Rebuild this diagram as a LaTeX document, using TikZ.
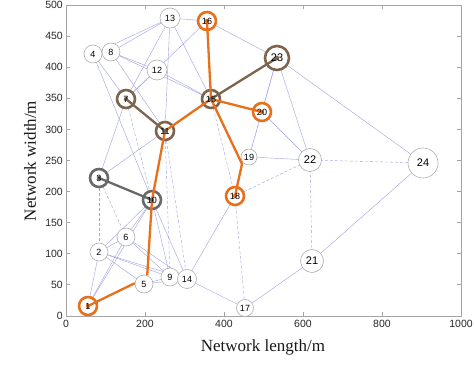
\documentclass[tikz,border=0pt]{standalone}
\usepackage{fontspec}
\setmainfont{Liberation Serif}
\setsansfont{Liberation Sans}
\pgfdeclarelayer{bg}
\pgfsetlayers{bg,main}
\definecolor{hotorange}{RGB}{232,112,28}
\definecolor{hotbrown}{RGB}{125,100,78}
\definecolor{hotgray}{RGB}{105,105,105}
\definecolor{thinblue}{RGB}{160,160,228}
\definecolor{axisgray}{RGB}{165,165,165}
\definecolor{ringgray}{RGB}{175,175,175}
\begin{document}
\begin{tikzpicture}[x=1pt,y=-1pt,
  nd/.style={circle,draw=ringgray,line width=0.6pt,fill=white,inner sep=0pt,minimum size=18pt,font=\sffamily\fontsize{9}{9}\selectfont},
  bignd/.style={nd,minimum size=23pt,font=\sffamily\fontsize{11}{11}\selectfont},
  ringO/.style={draw=hotorange,line width=2.6pt},
  ringB/.style={draw=hotbrown,line width=2.6pt},
  ringG/.style={draw=hotgray,line width=2.6pt},
  thin/.style={draw=thinblue,line width=0.4pt},
  thindash/.style={thin,dash pattern=on 3pt off 2pt},
  thickO/.style={draw=hotorange,line width=2.3pt,line join=round},
  thickB/.style={draw=hotbrown,line width=2.3pt},
  thickG/.style={draw=hotgray,line width=2.3pt},
  axis/.style={draw=axisgray,line width=0.8pt},
  ticklab/.style={font=\sffamily\fontsize{10.5}{10.5}\selectfont,text=black!85,inner sep=1pt},
  toplab/.style={font=\sffamily\fontsize{9}{9}\selectfont,inner sep=0pt},
  title/.style={font=\fontsize{17}{17}\selectfont,text=black!90}
]
\useasboundingbox (0,0) rectangle (474,379);

% axes
\draw[axis] (66,5) rectangle (461,316);
\foreach \xp/\lab in {66/0,145/200,224/400,303/600,382/800,461/1000}{
  \draw[axis] (\xp,316) -- (\xp,312);
  \draw[axis] (\xp,5) -- (\xp,9);
  \node[ticklab,anchor=north] at (\xp,319) {\lab};
}
\foreach \i in {0,...,10}{
  \pgfmathsetmacro{\yp}{316-31.1*\i}
  \pgfmathtruncatemacro{\lab}{50*\i}
  \draw[axis] (66,\yp) -- (70,\yp);
  \draw[axis] (461,\yp) -- (457,\yp);
  \node[ticklab,anchor=east] at (64,\yp) {\lab};
}
\node[title] (xt) at (263,347) {Network length/m};
\node[title,rotate=90] (yt) at (30,161) {Network width/m};

% nodes (labels of highlighted nodes are set on top later)
\node[nd,ringO] (n1) at (88,306) {};
\node[nd] (n2) at (99,252) {2};
\node[nd,ringG] (n3) at (99,178) {};
\node[nd] (n4) at (93,54) {4};
\node[nd] (n5) at (144,284) {5};
\node[nd] (n6) at (126,237) {6};
\node[nd,ringB] (n7) at (126,99) {};
\node[nd] (n8) at (111,52) {8};
\node[nd] (n9) at (170,277) {9};
\node[nd,ringG] (n10) at (152,200) {};
\node[nd,ringB] (n11) at (165,131) {};
\node[nd,minimum size=20pt] (n12) at (157,70) {12};
\node[nd,minimum size=20pt] (n13) at (170,18) {13};
\node[nd,minimum size=19pt] (n14) at (187,279) {14};
\node[nd,ringB] (n15) at (211,99) {};
\node[nd,ringO] (n16) at (207,21) {};
\node[nd,minimum size=17pt] (n17) at (245,308) {17};
\node[nd,ringO] (n18) at (235,196) {};
\node[nd,minimum size=16pt] (n19) at (249,157) {19};
\node[nd,ringO] (n20) at (262,112) {};
\node[bignd] (n21) at (312,261) {21};
\node[bignd] (n22) at (310,160) {22};
\node[bignd,ringB,minimum size=24pt] (n23) at (277,58) {};
\node[bignd,minimum size=30pt] (n24) at (423,163) {24};
\coordinate (p18) at (242,164);

% thin connectors
\begin{pgfonlayer}{bg}
\foreach \a/\b in {4/13,8/13,13/16,13/11,13/7,13/15,8/12,8/15,8/11,4/7,4/10,12/15,12/7,16/7,7/3,11/3,10/2,10/6,10/1,1/2,1/6,2/6,2/5,2/9,2/14,6/9,6/14,5/9,5/14,10/9,10/14,14/18,14/17,17/21,21/24,19/22,23/22,23/24,16/23,19/23,20/22,20/23}
  \draw[thin] (n\a.center) -- (n\b.center);
\foreach \a/\b in {3/2,3/6,7/10,11/9,11/14,15/18,18/17,18/22,22/21,22/24,19/20}
  \draw[thindash] (n\a.center) -- (n\b.center);
\end{pgfonlayer}

% highlighted route
\draw[thickG] (n3.center) -- (n10.center);
\draw[thickB] (n7.center) -- (n11.center);
\draw[thickB] (n15.center) -- (n23.center);
\draw[thickO] (n1.center) -- (n5.175);
\draw[thickO] (n5.70) -- (n10.center) -- (n11.center) -- (n15.center) -- (n16.center);
\draw[thickO] (n15.center) -- (n20.center);
\draw[thickO] (n15.center) -- (p18) -- (n18.center);

% centre dots
\foreach \n in {1,16,18,20}
  \fill[hotorange] (n\n.center) circle (2.2);
\foreach \n in {7,11,15,23}
  \fill[hotbrown] (n\n.center) circle (2.2);
\foreach \n in {3,10}
  \fill[hotgray] (n\n.center) circle (2.2);

% labels of highlighted nodes, on top
\foreach \n in {1,3,7,10,11,15,16,18,20}
  \node[toplab] (l\n) at (n\n.center) {\n};
\node[toplab,font=\sffamily\fontsize{11}{11}\selectfont] (l23) at (n23.center) {23};
\end{tikzpicture}
\end{document}
